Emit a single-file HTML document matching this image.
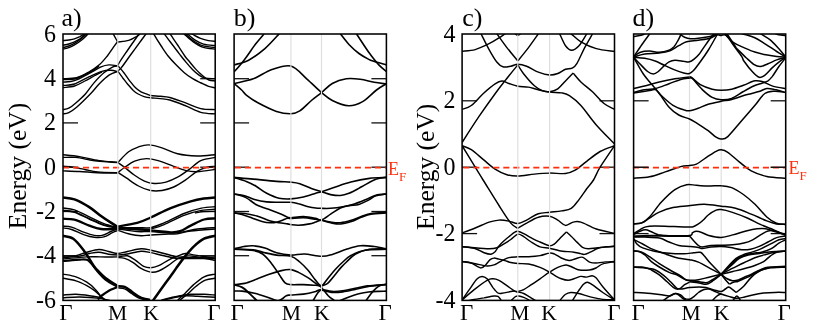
<!DOCTYPE html>
<html><head><meta charset="utf-8"><title>Band structures</title>
<style>html,body{margin:0;padding:0;background:#fff}svg{display:block}</style>
</head><body>
<svg width="817" height="328" viewBox="0 0 817 328">
<rect width="817" height="328" fill="#fff"/>
<clipPath id="cp0"><rect x="63.0" y="34.0" width="152.2" height="266.4"/></clipPath>
<g stroke="#111" stroke-width="1.30">
<line x1="63.0" y1="78.7" x2="78.0" y2="78.7"/>
<line x1="200.2" y1="78.7" x2="215.2" y2="78.7"/>
<line x1="63.0" y1="122.9" x2="78.0" y2="122.9"/>
<line x1="200.2" y1="122.9" x2="215.2" y2="122.9"/>
<line x1="63.0" y1="167.2" x2="78.0" y2="167.2"/>
<line x1="200.2" y1="167.2" x2="215.2" y2="167.2"/>
<line x1="63.0" y1="211.5" x2="78.0" y2="211.5"/>
<line x1="200.2" y1="211.5" x2="215.2" y2="211.5"/>
<line x1="63.0" y1="255.7" x2="78.0" y2="255.7"/>
<line x1="200.2" y1="255.7" x2="215.2" y2="255.7"/>
</g>
<g clip-path="url(#cp0)" fill="none" stroke="#000" stroke-width="1.40" stroke-linejoin="round">
<path d="M63.0 40.6C64.0 40.5 66.9 40.3 68.8 40.0C70.7 39.7 72.7 39.4 74.5 38.8C76.4 38.2 78.4 37.3 79.9 36.6C81.3 35.9 82.4 35.2 83.4 34.5C84.4 33.8 85.5 32.8 85.9 32.5"/>
<path d="M63.0 45.2C64.0 45.0 66.9 44.6 68.8 44.0C70.7 43.4 72.7 42.7 74.5 41.8C76.4 40.9 78.4 39.8 79.9 38.8C81.3 37.8 82.5 36.7 83.4 35.9C84.3 35.1 84.7 34.9 85.4 34.2C86.1 33.6 87.1 32.4 87.4 32.0"/>
<path d="M63.0 47.6C64.0 47.3 66.9 46.7 68.8 46.0C70.7 45.3 72.5 44.6 74.5 43.4C76.5 42.2 78.9 40.5 80.9 39.0C82.8 37.5 85.0 35.4 86.3 34.2C87.5 33.0 88.0 32.4 88.4 32.0"/>
<path d="M63.0 49.1C64.0 48.9 66.9 48.3 68.8 47.6C70.7 46.9 72.5 46.1 74.5 44.9C76.6 43.7 79.2 42.1 81.4 40.3C83.6 38.5 86.4 35.6 87.8 34.2C89.2 32.8 89.5 32.4 89.9 32.0"/>
<path d="M215.2 41.3C214.1 41.2 210.8 41.1 208.4 40.6C205.9 40.1 203.1 39.3 200.5 38.3C197.9 37.3 194.7 35.4 192.8 34.4C190.9 33.4 189.6 32.4 188.9 32.0"/>
<path d="M215.2 45.7C213.3 45.5 206.9 45.2 203.5 44.2C200.1 43.2 197.3 41.4 194.7 39.8C192.1 38.2 189.5 35.7 188.0 34.4C186.4 33.1 185.9 32.4 185.5 32.0"/>
<path d="M215.2 47.6C213.1 47.3 206.2 46.9 202.5 45.7C198.8 44.5 195.6 42.2 192.8 40.3C190.1 38.4 187.5 35.8 186.0 34.4C184.4 33.0 183.9 32.4 183.5 32.0"/>
<path d="M215.2 49.1C213.1 48.8 206.4 48.5 202.5 47.1C198.6 45.7 194.8 42.9 191.8 40.8C188.8 38.7 186.2 35.9 184.6 34.4C182.9 32.9 182.4 32.4 182.0 32.0"/>
<path d="M63.0 78.7C65.3 78.5 72.3 78.8 76.5 77.7C80.8 76.6 84.9 74.2 88.8 72.0C92.6 69.8 96.5 67.2 99.6 64.5C102.7 61.8 105.0 58.8 107.5 55.7C109.9 52.6 112.7 48.3 114.4 45.9C116.1 43.5 117.2 42.2 117.8 41.5"/>
<path d="M63.0 79.6C65.1 79.4 71.5 79.9 75.8 78.7C80.2 77.5 85.4 74.5 89.3 72.4C93.2 70.3 97.5 67.1 99.1 66.0"/>
<path d="M117.8 42.0C119.6 41.7 125.4 41.3 128.7 40.3C132.0 39.3 135.7 37.0 137.6 35.9C139.5 34.8 139.8 33.9 140.2 33.5"/>
<path d="M112.0 31.0C112.2 31.5 112.7 32.9 113.4 34.2C114.1 35.5 115.3 37.7 116.0 39.0C116.7 40.3 117.5 41.7 117.8 42.2"/>
<path d="M63.0 82.1C64.9 81.8 70.2 82.1 74.5 80.6C78.9 79.1 84.9 75.6 89.3 73.3C93.7 71.0 97.8 68.3 101.0 66.9C104.3 65.5 106.2 65.1 109.0 64.9C111.8 64.7 116.3 65.7 117.8 65.9"/>
<path d="M63.0 85.5C64.9 85.2 70.2 85.5 74.5 84.0C78.9 82.5 84.7 78.8 89.3 76.7C93.9 74.6 98.4 72.4 102.0 71.3C105.6 70.2 108.2 70.2 110.9 70.3C113.5 70.4 116.6 71.5 117.8 71.8"/>
<path d="M63.0 87.6C64.9 87.3 70.9 87.1 74.5 86.0C78.2 84.9 81.5 82.8 84.9 81.0C88.3 79.2 92.1 77.0 94.9 75.5C97.8 74.0 100.9 72.4 102.0 71.8"/>
<path d="M63.0 109.6C64.0 109.4 66.7 109.3 68.8 108.2C71.0 107.1 73.1 105.4 75.8 103.0C78.6 100.6 82.3 97.4 85.4 94.0C88.4 90.6 91.1 86.1 94.2 82.6C97.3 79.1 100.8 75.4 103.9 72.8C107.1 70.2 110.6 68.1 112.9 66.9C115.2 65.8 117.0 66.1 117.8 65.9"/>
<path d="M63.0 113.9C64.0 113.7 66.5 113.8 68.8 112.6C71.1 111.4 73.3 110.1 76.9 107.0C80.4 103.9 86.6 97.8 90.3 94.0C94.0 90.2 96.0 87.1 99.1 84.0C102.2 80.9 105.9 77.3 109.0 75.2C112.1 73.1 116.3 72.0 117.8 71.3"/>
<path d="M117.8 65.5C118.1 64.9 118.0 64.7 119.7 62.0C121.4 59.3 125.4 53.5 128.1 49.5C130.8 45.5 134.4 40.5 136.2 38.0C137.9 35.5 138.0 35.2 138.7 34.2C139.4 33.2 140.0 32.4 140.2 32.0"/>
<path d="M117.8 70.8C118.4 70.3 118.9 70.8 121.2 67.9C123.5 65.0 128.2 58.1 131.6 53.5C135.0 48.9 139.2 43.2 141.5 40.0C143.9 36.8 144.8 35.5 145.8 34.2C146.7 32.9 147.0 32.4 147.3 32.0"/>
<path d="M117.8 65.9C118.1 66.2 118.7 66.6 119.8 67.9C121.0 69.2 123.0 71.7 124.7 73.8C126.3 75.9 127.7 78.3 129.5 80.6C131.3 82.9 133.3 85.6 135.3 87.5C137.2 89.4 139.1 90.8 141.0 91.9C142.9 93.0 145.3 93.6 146.9 94.2C148.5 94.8 148.5 95.2 150.7 95.5C152.9 95.8 157.0 96.0 160.2 96.3C163.4 96.6 165.7 96.4 169.8 97.5C174.0 98.6 179.8 100.9 185.0 102.7C190.1 104.5 195.8 107.4 200.8 108.6C205.9 109.8 212.8 109.4 215.2 109.6"/>
<path d="M117.8 71.0C117.9 71.1 117.5 70.7 118.3 71.8C119.1 72.9 121.1 75.7 122.6 77.7C124.2 79.7 125.7 81.9 127.5 84.0C129.3 86.1 131.6 88.7 133.3 90.4C135.1 92.1 136.4 93.0 138.2 94.0C140.0 95.0 142.1 96.0 144.1 96.6C146.2 97.2 148.0 97.5 150.7 97.8C153.4 98.1 157.0 98.2 160.2 98.6C163.4 99.0 165.7 98.8 169.8 100.0C174.0 101.2 179.8 103.5 185.0 105.5C190.1 107.5 195.8 110.9 200.8 112.3C205.9 113.7 212.8 113.6 215.2 113.9"/>
<path d="M152.8 31.0C153.0 31.6 152.6 31.9 154.0 34.4C155.4 36.9 158.8 42.4 161.2 46.0C163.6 49.6 165.7 52.9 168.1 56.0C170.6 59.1 173.1 61.8 175.8 64.6C178.5 67.4 181.5 70.3 184.3 72.7C187.1 75.1 189.9 77.0 192.7 78.7C195.5 80.4 198.6 81.7 201.2 83.0C203.9 84.3 206.2 85.5 208.6 86.3C210.9 87.1 214.1 87.5 215.2 87.8"/>
<path d="M163.2 31.0C163.4 31.6 163.1 32.1 164.7 34.4C166.2 36.7 169.9 41.4 172.6 45.0C175.3 48.6 178.7 53.0 181.0 56.0C183.3 59.0 184.6 60.6 186.6 62.9C188.5 65.2 190.7 67.7 192.7 69.7C194.7 71.7 197.0 73.6 198.7 74.9C200.4 76.2 201.3 76.8 202.9 77.4C204.5 78.0 206.0 78.3 208.1 78.5C210.1 78.7 214.0 78.6 215.2 78.6"/>
<path d="M169.1 31.0C169.4 31.6 169.1 32.1 170.5 34.4C171.9 36.7 175.2 41.4 177.6 45.0C179.9 48.6 182.8 53.2 184.8 56.0C186.8 58.8 188.0 59.9 189.7 62.0C191.5 64.2 193.6 66.8 195.5 68.9C197.4 71.0 199.7 73.0 201.2 74.4C202.7 75.8 203.3 76.5 204.6 77.4C205.9 78.3 207.1 79.4 208.9 80.0C210.6 80.6 214.1 80.8 215.2 81.0"/>
<path d="M63.0 154.7C65.7 155.0 73.4 155.6 79.5 156.6C85.5 157.6 92.7 159.7 99.1 160.6C105.5 161.5 114.7 161.9 117.8 162.2"/>
<path d="M63.0 157.4C65.1 157.4 71.4 157.0 75.8 157.4C80.3 157.8 85.9 159.3 89.9 160.0C93.9 160.7 95.3 160.9 99.9 161.3C104.6 161.7 114.8 162.4 117.8 162.6"/>
<path d="M63.0 166.3C64.7 166.5 69.5 166.6 73.2 167.2C77.0 167.8 81.4 168.9 85.5 169.7C89.6 170.5 92.3 171.4 97.7 171.9C103.1 172.4 114.5 172.6 117.8 172.7"/>
<path d="M63.0 170.9C65.7 171.0 73.6 171.2 79.4 171.5C85.1 171.8 91.3 172.4 97.7 172.7C104.1 173.0 114.5 173.0 117.8 173.1"/>
<path d="M117.8 162.5C119.6 160.7 125.2 154.4 128.6 151.8C132.0 149.2 135.2 148.1 138.5 146.9C141.8 145.8 144.5 144.8 148.4 144.9C152.3 145.1 157.1 146.3 162.0 147.8C166.9 149.3 171.7 152.3 177.6 153.7C183.4 155.1 190.7 155.8 197.0 156.0C203.2 156.2 212.2 154.9 215.2 154.7"/>
<path d="M117.8 172.6C118.9 171.8 121.7 169.4 124.5 167.5C127.3 165.6 130.9 162.7 134.6 161.2C138.2 159.7 142.5 158.7 146.5 158.6C150.4 158.5 153.6 159.3 158.1 160.6C162.7 161.9 169.2 164.8 173.7 166.4C178.2 168.0 181.4 169.5 185.3 170.4C189.2 171.3 192.0 171.9 197.0 171.7C202.0 171.5 212.2 169.8 215.2 169.4"/>
<path d="M117.8 162.5C118.9 163.3 121.9 165.3 124.7 167.4C127.5 169.5 131.3 173.0 134.6 175.3C137.8 177.6 141.2 179.7 144.4 181.1C147.7 182.5 150.7 183.3 154.3 183.5C157.9 183.7 162.1 183.2 166.0 182.1C169.8 181.0 173.7 179.3 177.6 177.2C181.4 175.1 185.4 172.2 189.2 169.4C193.1 166.6 196.5 162.6 200.8 160.6C205.2 158.6 212.8 157.9 215.2 157.4"/>
<path d="M117.8 172.3C119.3 173.3 123.2 175.9 126.7 178.2C130.1 180.5 134.5 183.9 138.5 186.0C142.4 188.1 146.5 189.8 150.4 190.5C154.3 191.2 158.1 191.1 162.0 190.5C165.9 189.9 169.8 188.7 173.7 187.0C177.6 185.3 181.4 182.7 185.3 180.1C189.2 177.5 193.4 173.4 197.0 171.3C200.5 169.2 203.6 168.2 206.7 167.4C209.7 166.6 213.8 166.6 215.2 166.4"/>
<path d="M63.0 197.5C64.9 197.8 70.2 197.8 74.5 199.4C78.9 201.0 84.9 204.4 89.3 207.2C93.7 210.0 97.4 213.4 101.0 216.0C104.6 218.6 108.1 220.9 110.9 222.7C113.7 224.5 116.6 226.3 117.8 227.0" stroke-width="2.60"/>
<path d="M63.0 208.0C64.9 208.3 70.2 208.4 74.5 209.9C78.9 211.4 84.4 214.5 89.3 216.8C94.2 219.1 99.2 221.8 103.9 223.6C108.7 225.4 115.5 226.8 117.8 227.5"/>
<path d="M63.0 210.6C64.9 210.8 70.2 210.7 74.5 212.1C78.9 213.5 84.4 216.7 89.3 218.9C94.2 221.1 99.2 223.6 103.9 225.1C108.7 226.6 115.5 227.5 117.8 228.0" stroke-width="1.90"/>
<path d="M63.0 218.7C64.9 218.9 70.2 218.5 74.5 219.7C78.9 220.8 84.9 224.0 89.3 225.6C93.7 227.2 96.3 228.4 101.0 229.0C105.8 229.6 115.0 229.0 117.8 229.0" stroke-width="2.30"/>
<path d="M63.0 226.1C64.4 226.3 68.1 226.0 71.6 227.1C75.2 228.2 80.6 231.0 84.4 232.4C88.1 233.8 91.3 234.9 94.2 235.4C97.2 235.9 99.3 236.1 102.0 235.4C104.8 234.8 108.2 232.6 110.9 231.5C113.5 230.4 116.6 229.4 117.8 229.0"/>
<path d="M63.0 228.0C64.4 228.2 68.1 228.3 71.6 229.5C75.2 230.7 80.6 233.6 84.4 234.9C88.1 236.2 91.0 237.0 94.2 237.3C97.5 237.6 101.0 237.6 103.9 236.9C106.9 236.2 109.6 234.0 111.9 232.9C114.2 231.8 116.8 230.9 117.8 230.5"/>
<path d="M117.8 226.5C121.0 225.9 131.7 224.4 137.2 222.9C142.7 221.4 145.1 220.0 150.7 217.5C156.3 215.0 164.0 210.8 170.7 208.1C177.4 205.4 185.2 202.9 190.7 201.3C196.2 199.7 199.7 199.1 203.8 198.5C207.9 197.9 213.3 197.7 215.2 197.5" stroke-width="2.40"/>
<path d="M117.8 227.6C121.0 227.6 131.7 227.6 137.2 227.6C142.7 227.6 146.2 228.4 150.7 227.6C155.2 226.8 158.5 225.2 164.1 222.9C169.6 220.6 177.8 216.0 184.0 213.5C190.2 211.0 196.2 209.2 201.4 208.1C206.6 207.0 212.9 206.9 215.2 206.7"/>
<path d="M117.8 228.0C121.0 228.1 131.7 228.4 137.2 228.6C142.7 228.8 146.2 229.6 150.7 228.9C155.2 228.2 158.5 226.8 164.1 224.6C169.6 222.3 177.8 217.8 184.0 215.4C190.2 213.0 196.2 211.4 201.4 210.4C206.6 209.4 212.9 209.4 215.2 209.2"/>
<path d="M215.2 211.4C213.3 211.4 207.2 211.3 203.8 211.6C200.4 211.9 196.4 212.8 194.9 213.0"/>
<path d="M117.8 228.3C123.3 228.6 141.9 229.6 150.7 230.3C159.5 231.0 165.8 232.2 170.7 232.3C175.6 232.5 176.7 232.3 180.0 231.2C183.4 230.1 186.7 227.5 190.7 225.6C194.7 223.7 200.0 220.7 204.1 219.5C208.2 218.3 213.4 218.6 215.2 218.4" stroke-width="2.30"/>
<path d="M117.8 229.0C121.0 229.4 131.7 231.2 137.2 231.6C142.7 232.0 145.1 231.4 150.7 231.6C156.3 231.8 165.2 233.0 170.7 233.0C176.3 233.0 179.5 232.3 184.0 231.6C188.4 230.9 192.2 229.7 197.4 229.0C202.6 228.3 212.2 227.8 215.2 227.6"/>
<path d="M117.8 230.3C119.9 231.0 126.4 233.4 130.3 234.3C134.2 235.2 137.8 235.6 141.2 235.7C144.6 235.8 146.9 235.2 150.7 235.0C154.5 234.8 159.6 234.5 164.1 234.3C168.5 234.1 172.9 234.2 177.4 233.7C181.8 233.1 184.4 231.8 190.7 231.0C197.0 230.2 211.1 229.3 215.2 229.0"/>
<path d="M63.0 235.8C64.7 236.3 69.8 236.2 73.3 238.7C76.9 241.2 80.7 246.4 84.1 250.9C87.5 255.4 91.4 262.4 93.6 265.7C95.9 269.0 95.6 268.4 97.6 270.5C99.7 272.6 102.4 275.6 105.8 278.2C109.1 280.8 115.8 284.7 117.8 286.0" stroke-width="2.50"/>
<path d="M215.2 235.8C213.4 236.3 207.7 236.9 204.1 238.7C200.5 240.5 196.8 243.7 193.4 246.8C190.1 250.0 186.9 254.0 184.0 257.6C181.1 261.2 178.3 265.3 176.1 268.4C173.9 271.5 172.7 273.2 170.7 276.0C168.7 278.8 167.0 280.9 164.1 284.9C161.2 288.9 155.5 297.0 153.4 300.0C151.2 303.0 151.6 302.5 151.3 303.0" stroke-width="2.50"/>
<path d="M63.0 256.2C65.2 256.1 72.1 256.3 76.0 255.6C80.0 254.9 83.0 253.2 86.8 252.2C90.6 251.2 95.3 249.6 98.9 249.5C102.5 249.4 105.3 250.8 108.5 251.5C111.6 252.2 114.6 253.5 117.8 253.5C121.0 253.5 123.5 252.3 127.4 251.5C131.3 250.7 137.1 249.0 141.0 248.8C144.9 248.6 146.9 249.4 150.7 250.2C154.5 251.0 159.6 252.4 164.1 253.5C168.5 254.6 172.9 256.2 177.4 256.9C181.8 257.6 184.4 257.6 190.7 257.6C197.0 257.6 211.1 257.0 215.2 256.9"/>
<path d="M63.0 257.6C65.8 257.3 75.6 256.7 80.1 256.0C84.5 255.3 86.4 254.1 89.5 253.5C92.6 252.9 95.8 252.1 98.9 252.2C102.1 252.3 105.3 253.7 108.5 254.2C111.6 254.7 114.6 255.0 117.8 255.0C121.0 255.0 123.5 254.6 127.4 254.0C131.3 253.4 137.1 251.4 141.0 251.2C144.9 251.0 146.9 251.8 150.7 252.6C154.5 253.4 159.6 254.8 164.1 255.8C168.5 256.8 172.9 257.9 177.4 258.4C181.8 258.8 184.4 258.5 190.7 258.5C197.0 258.5 211.1 258.6 215.2 258.6"/>
<path d="M63.0 259.0C67.0 258.6 80.7 257.2 86.9 256.9C93.1 256.5 95.2 256.9 100.3 256.9C105.5 256.9 113.3 257.1 117.8 256.9C122.3 256.7 124.4 255.2 127.4 255.8C130.3 256.4 132.8 258.6 135.6 260.3C138.3 262.1 141.2 265.1 143.7 266.3C146.3 267.5 148.2 267.8 150.7 267.7C153.2 267.6 155.8 266.9 158.7 265.7C161.6 264.5 164.9 261.9 168.0 260.3C171.1 258.7 174.5 257.3 177.4 256.2C180.2 255.1 182.7 253.7 185.4 253.5C188.1 253.3 188.4 254.1 193.4 254.9C198.4 255.7 211.6 257.7 215.2 258.3"/>
<path d="M117.8 257.6C118.9 257.7 122.2 257.5 124.7 258.3C127.2 259.1 130.1 260.6 132.8 262.3C135.6 264.0 138.0 266.8 141.0 268.4C144.0 270.0 147.7 271.7 150.7 272.1C153.7 272.5 155.8 272.1 158.7 271.0C161.6 269.9 164.9 267.7 168.0 265.7C171.1 263.7 174.5 260.5 177.4 258.9C180.2 257.3 182.7 256.6 185.4 256.2C188.1 255.8 188.4 255.5 193.4 256.2C198.4 256.9 211.6 259.6 215.2 260.3"/>
<path d="M63.0 261.0C65.8 260.8 76.1 259.8 80.1 259.6C84.0 259.4 85.0 259.2 86.8 259.8C88.6 260.4 89.1 261.1 90.9 263.0C92.7 264.9 95.2 268.7 97.6 271.5C100.1 274.3 102.4 277.2 105.8 279.8C109.1 282.4 115.8 285.8 117.8 287.0" stroke-width="2.20"/>
<path d="M63.0 274.1C65.2 274.6 72.1 275.5 76.0 276.8C80.0 278.1 83.6 280.2 86.8 282.2C89.9 284.2 92.7 286.6 94.9 288.9C97.2 291.1 98.8 293.8 100.3 295.7C101.9 297.6 103.4 298.8 104.4 300.0C105.3 301.2 105.7 302.5 106.0 303.0"/>
<path d="M63.0 278.2C65.2 278.6 72.1 279.6 76.0 280.8C80.0 282.0 83.6 283.9 86.8 285.6C89.9 287.3 92.4 289.0 94.9 290.9C97.4 292.8 100.0 295.5 101.6 297.0C103.3 298.5 104.1 299.0 105.0 300.0C105.8 301.0 106.6 302.5 107.0 303.0"/>
<path d="M97.9 299.5C98.5 298.9 99.9 297.1 101.6 295.7C103.4 294.3 105.8 292.4 108.5 290.9C111.2 289.4 116.2 287.6 117.8 286.9" stroke-width="2.30"/>
<path d="M63.0 295.0C65.1 294.9 71.4 294.2 75.8 294.3C80.3 294.4 85.4 295.1 89.5 295.7C93.6 296.3 97.6 296.9 100.3 297.7C103.1 298.5 105.0 300.0 106.0 300.5"/>
<path d="M63.0 297.7C65.8 297.6 73.7 296.9 79.9 297.0C86.0 297.1 94.9 297.8 99.9 298.4C105.0 299.0 108.3 300.1 110.0 300.5"/>
<path d="M117.8 286.2C118.9 286.3 122.4 286.0 124.7 286.9C127.0 287.8 129.3 290.0 131.5 291.6C133.8 293.2 136.0 295.1 138.3 296.3C140.5 297.5 143.0 298.4 145.0 299.0C147.1 299.6 149.8 299.8 150.7 300.0" stroke-width="2.60"/>
<path d="M117.8 287.8C118.9 288.0 122.4 287.9 124.7 288.9C127.0 289.8 129.3 292.0 131.5 293.5C133.8 295.0 135.8 296.7 138.3 297.8C140.7 298.9 144.9 299.6 146.3 300.0"/>
<path d="M161.4 300.0C163.0 299.6 167.6 298.4 170.7 297.7C173.8 297.0 176.7 296.3 180.0 295.7C183.4 295.1 186.7 294.5 190.7 294.3C194.7 294.1 200.0 294.2 204.1 294.3C208.2 294.4 213.4 294.9 215.2 295.0"/>
<path d="M164.1 300.0C166.3 299.5 173.8 297.7 177.4 297.0C180.9 296.3 182.0 295.8 185.4 295.7C188.7 295.6 192.4 296.0 197.4 296.3C202.3 296.6 212.2 297.1 215.2 297.3"/>
<path d="M176.1 303.0C176.4 302.5 176.5 301.7 178.0 300.0C179.6 298.3 182.8 295.5 185.4 293.0C187.9 290.5 190.3 287.6 193.4 284.9C196.5 282.2 200.5 278.6 204.1 276.8C207.7 275.0 213.4 274.6 215.2 274.1"/>
<path d="M178.0 303.0C178.4 302.5 178.4 301.6 180.0 300.0C181.7 298.4 185.4 295.9 188.1 293.6C190.7 291.3 193.2 288.4 196.1 286.2C199.0 284.0 202.2 281.5 205.4 280.2C208.6 278.9 213.6 278.5 215.2 278.2"/>
</g>
<line x1="63.0" y1="167.6" x2="215.2" y2="167.6" stroke="#ff3010" stroke-width="1.55" stroke-dasharray="6.1 3.9"/>
<g stroke="#dedede" stroke-width="1.15">
<line x1="117.8" y1="34.0" x2="117.8" y2="300.4"/>
<line x1="150.7" y1="34.0" x2="150.7" y2="300.4"/>
</g>
<rect x="63.0" y="34.0" width="152.2" height="266.4" fill="none" stroke="#000" stroke-width="1.55"/>
<clipPath id="cp1"><rect x="234.1" y="34.0" width="152.3" height="266.4"/></clipPath>
<g stroke="#111" stroke-width="1.30">
<line x1="234.1" y1="78.7" x2="249.1" y2="78.7"/>
<line x1="371.4" y1="78.7" x2="386.4" y2="78.7"/>
<line x1="234.1" y1="122.9" x2="249.1" y2="122.9"/>
<line x1="371.4" y1="122.9" x2="386.4" y2="122.9"/>
<line x1="234.1" y1="167.2" x2="249.1" y2="167.2"/>
<line x1="371.4" y1="167.2" x2="386.4" y2="167.2"/>
<line x1="234.1" y1="211.5" x2="249.1" y2="211.5"/>
<line x1="371.4" y1="211.5" x2="386.4" y2="211.5"/>
<line x1="234.1" y1="255.7" x2="249.1" y2="255.7"/>
<line x1="371.4" y1="255.7" x2="386.4" y2="255.7"/>
</g>
<g clip-path="url(#cp1)" fill="none" stroke="#000" stroke-width="1.60" stroke-linejoin="round">
<path d="M234.1 64.9C236.5 64.1 243.5 62.9 248.6 60.2C253.7 57.5 259.9 52.9 264.9 48.6C269.9 44.3 276.1 37.1 278.8 34.2C281.5 31.3 280.6 31.5 281.0 31.0"/>
<path d="M234.1 71.9C235.8 70.0 240.4 64.9 244.0 60.2C247.6 55.6 252.3 48.3 255.6 44.0C258.9 39.7 262.0 36.5 263.7 34.2C265.4 32.0 265.6 31.1 266.0 30.5"/>
<path d="M234.1 83.5C237.3 82.7 247.0 81.1 253.3 78.8C259.6 76.5 265.6 71.6 271.9 69.5C278.2 67.4 285.1 64.5 290.9 66.0C296.7 67.5 301.6 74.4 306.7 78.8C311.8 83.2 317.2 89.0 321.5 92.6C325.8 96.2 327.8 98.3 332.3 100.5C336.8 102.7 343.6 105.6 348.6 105.8C353.7 106.0 358.0 104.2 362.6 101.6C367.2 99.0 372.5 93.0 376.5 90.0C380.5 87.0 384.8 84.8 386.4 83.8"/>
<path d="M234.1 83.5C235.3 84.6 239.6 88.1 241.6 90.0C243.6 91.9 243.6 93.0 246.3 95.1C249.0 97.2 252.9 100.1 257.9 102.8C262.9 105.5 271.0 109.6 276.5 111.4C282.0 113.2 287.0 113.8 290.9 113.7C294.8 113.6 296.4 113.1 299.8 110.9C303.2 108.7 307.8 103.5 311.4 100.5C315.0 97.5 318.0 95.4 321.5 92.6C325.0 89.8 328.2 85.8 332.3 83.5C336.4 81.2 341.7 79.5 346.3 78.8C350.9 78.1 355.6 78.7 360.2 79.3C364.8 79.9 369.8 81.5 374.2 82.3C378.6 83.1 384.4 83.7 386.4 84.0"/>
<path d="M386.4 64.9C384.3 64.3 376.6 62.2 373.7 61.3C370.8 60.4 371.2 60.7 368.8 59.4C366.4 58.1 362.3 56.0 359.0 53.5C355.7 51.0 352.2 47.9 349.2 44.7C346.2 41.5 342.7 36.7 340.9 34.4C339.1 32.1 338.9 31.6 338.5 31.0"/>
<path d="M386.4 71.4C385.1 70.3 381.6 67.9 378.8 64.9C376.0 61.9 373.2 58.4 369.5 53.3C365.8 48.2 359.2 37.9 356.7 34.2C354.2 30.5 354.9 31.5 354.5 31.0"/>
<path d="M234.1 177.4C237.3 177.7 246.2 178.4 253.3 179.1C260.4 179.8 270.2 180.9 276.5 181.4C282.8 181.9 287.0 181.7 290.9 182.1C294.8 182.5 296.4 182.6 299.8 183.7C303.2 184.8 307.8 187.1 311.4 188.4C315.0 189.7 318.3 190.7 321.5 191.7C324.7 192.7 327.5 194.0 330.6 194.6C333.8 195.2 337.3 195.7 340.4 195.5C343.5 195.3 345.9 194.5 349.0 193.3C352.1 192.1 356.2 189.8 358.8 188.4C361.4 187.0 361.9 186.5 364.9 184.9C367.8 183.3 372.9 180.3 376.5 179.1C380.1 177.8 384.8 177.7 386.4 177.4"/>
<path d="M234.1 177.4C236.1 178.1 242.7 180.0 246.3 181.4C249.9 182.8 252.3 184.0 255.7 186.0C259.1 188.0 262.8 191.3 266.7 193.3C270.6 195.3 275.0 197.3 279.0 198.2C283.0 199.1 286.8 199.1 290.9 198.9C295.0 198.7 299.3 197.9 303.4 197.0C307.5 196.1 312.7 194.2 315.7 193.3C318.7 192.4 318.3 192.7 321.5 191.7C324.7 190.7 329.8 188.8 334.7 187.2C339.6 185.6 345.1 183.6 350.9 182.1C356.7 180.6 363.6 179.2 369.5 178.4C375.4 177.6 383.6 177.6 386.4 177.4"/>
<path d="M234.1 194.0C235.9 194.3 241.3 194.9 244.7 195.8C248.1 196.7 250.8 198.5 254.5 199.5C258.2 200.5 262.6 201.4 266.7 201.9C270.8 202.4 275.0 202.2 279.0 202.3C283.0 202.4 287.6 202.1 290.9 202.3C294.1 202.5 295.6 202.9 298.5 203.7C301.4 204.4 305.4 206.1 308.3 206.8C311.2 207.5 313.5 207.8 315.7 208.0C317.9 208.2 319.0 208.2 321.5 208.3C324.0 208.4 327.1 208.6 330.6 208.3C334.2 208.1 338.7 207.6 342.8 206.8C346.9 206.0 351.0 205.0 355.1 203.7C359.2 202.4 363.8 200.3 367.3 198.9C370.8 197.5 372.7 196.0 375.9 195.2C379.1 194.4 384.6 194.2 386.4 194.0"/>
<path d="M234.1 194.0C236.1 194.6 242.1 195.8 245.9 197.6C249.7 199.4 252.8 202.9 256.9 205.0C261.0 207.1 266.3 208.4 270.4 209.9C274.5 211.4 278.5 213.0 281.4 214.2C284.2 215.4 285.9 216.6 287.5 217.2C289.1 217.8 288.2 217.9 290.9 217.8C293.5 217.7 299.3 216.5 303.4 216.6C307.5 216.7 312.7 217.8 315.7 218.4C318.7 219.0 319.0 220.7 321.5 220.0C324.0 219.3 327.5 216.2 330.6 214.2C333.8 212.2 337.3 209.4 340.4 208.0C343.5 206.6 345.9 206.2 349.0 205.6C352.1 205.0 355.6 205.3 358.8 204.4C362.1 203.5 365.6 201.5 368.5 200.1C371.4 198.7 372.9 196.8 375.9 195.8C378.9 194.8 384.6 194.3 386.4 194.0"/>
<path d="M234.1 212.9C235.9 213.0 240.9 213.0 244.7 213.5C248.5 214.0 252.6 214.8 256.9 216.0C261.2 217.2 266.7 219.8 270.4 220.9C274.1 222.0 276.1 222.2 279.0 222.7C281.9 223.2 285.5 223.6 287.5 223.9C289.5 224.2 289.1 224.4 290.9 224.6C292.7 224.8 295.4 225.3 298.5 225.2C301.6 225.1 306.7 224.4 309.6 223.9C312.5 223.4 313.7 222.7 315.7 222.1C317.7 221.5 319.0 220.3 321.5 220.3C324.0 220.3 327.5 221.7 330.6 222.1C333.8 222.5 336.9 223.0 340.4 222.7C343.9 222.4 347.9 221.3 351.4 220.3C354.9 219.3 357.9 217.7 361.2 216.6C364.5 215.5 366.8 214.2 371.0 213.5C375.2 212.8 383.8 212.5 386.4 212.3"/>
<path d="M234.1 212.9C235.4 213.2 239.0 213.7 242.0 214.5C245.0 215.3 248.7 216.8 252.0 218.0C255.3 219.2 258.9 220.7 262.0 221.5C265.1 222.3 268.0 222.7 270.4 222.8C272.8 222.9 274.5 222.7 276.5 222.3C278.5 221.9 280.8 221.0 282.6 220.3C284.4 219.6 286.1 218.5 287.5 218.2C288.9 217.9 288.2 218.6 290.9 218.5C293.5 218.4 299.3 217.7 303.4 217.8C307.5 217.9 312.7 218.9 315.7 219.3C318.7 219.7 319.0 219.7 321.5 220.3C324.0 220.9 327.5 222.2 330.6 222.8C333.8 223.4 336.9 224.2 340.4 224.0C343.9 223.8 347.9 222.6 351.4 221.5C354.9 220.4 357.9 218.5 361.2 217.3C364.5 216.1 366.8 214.9 371.0 214.2C375.2 213.5 383.8 213.2 386.4 213.0"/>
<path d="M234.1 248.8C235.8 248.4 240.8 247.0 244.0 246.5C247.2 246.0 249.8 245.5 253.3 245.8C256.8 246.1 261.0 246.9 264.9 248.1C268.8 249.3 272.2 251.6 276.5 252.8C280.8 254.0 286.2 254.9 290.9 255.1C295.5 255.3 299.3 253.8 304.4 254.0C309.5 254.2 316.9 256.2 321.5 256.3C326.1 256.4 328.2 255.6 332.3 254.4C336.4 253.2 341.7 250.7 346.3 249.3C350.9 247.9 355.6 246.3 360.2 245.8C364.8 245.3 369.8 246.0 374.2 246.5C378.6 247.0 384.4 248.4 386.4 248.8"/>
<path d="M234.1 248.8C237.3 249.0 248.2 249.1 253.3 249.8C258.4 250.5 261.0 251.9 264.9 252.8C268.8 253.7 272.2 254.5 276.5 255.1C280.8 255.7 287.0 255.2 290.9 256.3C294.8 257.4 296.9 259.6 299.8 262.0C302.7 264.4 305.7 267.5 308.3 270.6C310.9 273.7 313.5 277.9 315.7 280.4C317.9 282.9 319.4 286.1 321.5 285.7C323.6 285.3 325.9 280.6 328.2 277.9C330.5 275.2 333.1 271.9 335.5 269.3C337.9 266.7 340.2 264.3 342.8 262.0C345.4 259.7 347.2 257.4 350.9 255.5C354.6 253.6 359.0 251.3 364.9 250.3C370.8 249.3 382.8 249.5 386.4 249.3"/>
<path d="M234.1 249.3C237.3 249.5 248.6 249.7 253.3 250.5C258.1 251.3 259.8 252.1 262.6 254.0C265.5 255.9 267.7 258.6 270.4 262.0C273.1 265.4 276.6 270.7 279.0 274.2C281.4 277.7 283.1 281.1 285.1 282.8C287.1 284.5 287.8 284.3 290.9 284.6C293.9 284.9 299.3 284.5 303.4 284.6C307.5 284.7 312.7 285.1 315.7 285.3C318.7 285.5 320.2 285.9 321.5 285.9C322.8 285.9 322.2 285.8 323.3 285.3C324.4 284.8 326.2 284.7 328.2 282.8C330.2 280.9 333.3 276.9 335.5 274.2C337.7 271.5 339.8 268.9 341.6 266.9C343.4 264.9 344.2 264.1 346.5 262.0C348.8 259.9 351.8 256.1 355.6 254.0C359.4 251.9 364.4 250.2 369.5 249.3C374.6 248.4 383.6 248.9 386.4 248.8"/>
<path d="M234.1 284.6C235.9 284.4 240.9 284.3 244.7 283.4C248.5 282.5 252.8 280.6 256.9 279.1C261.0 277.6 265.1 275.6 269.2 274.2C273.3 272.8 277.8 271.4 281.4 270.6C285.0 269.8 288.0 269.3 290.9 269.6C293.8 269.9 295.6 271.0 298.5 272.4C301.4 273.8 305.4 276.1 308.3 277.9C311.2 279.7 313.5 281.8 315.7 283.4C317.9 285.0 319.4 285.4 321.5 287.5C323.6 289.6 326.1 293.5 328.2 295.7C330.3 297.9 333.0 299.4 334.3 300.5C335.6 301.6 335.7 302.2 336.0 302.5"/>
<path d="M234.1 284.8C235.4 285.2 239.6 285.9 242.2 287.4C244.8 288.9 247.2 291.4 249.6 293.6C252.0 295.8 255.3 299.2 256.9 300.8C258.5 302.4 258.6 302.6 259.0 303.0" stroke-width="1.90"/>
<path d="M234.1 291.1C235.4 291.1 238.8 290.8 242.2 291.1C245.6 291.5 250.4 292.2 254.5 293.2C258.6 294.2 263.4 295.8 266.7 296.9C269.9 298.0 272.1 299.1 274.0 299.8C275.9 300.5 276.7 300.9 278.0 300.8C279.3 300.7 280.6 299.9 282.0 299.0C283.4 298.1 284.8 296.4 286.3 295.7C287.8 295.0 288.0 295.3 290.9 295.0C293.8 294.7 299.3 294.7 303.4 294.1C307.5 293.5 312.7 292.2 315.7 291.4C318.7 290.6 318.8 289.5 321.5 289.5C324.2 289.5 328.2 291.2 331.8 291.4C335.4 291.6 338.9 291.3 342.8 290.8C346.7 290.3 351.0 289.1 355.1 288.3C359.2 287.5 362.1 286.6 367.3 285.9C372.5 285.2 383.2 284.6 386.4 284.3"/>
<path d="M321.5 290.0C323.2 290.4 328.2 292.1 331.8 292.4C335.4 292.7 338.9 292.4 342.8 291.9C346.7 291.4 351.0 290.3 355.1 289.4C359.2 288.5 362.1 287.5 367.3 286.7C372.5 285.9 383.2 285.1 386.4 284.8"/>
<path d="M311.5 303.0C311.8 302.6 312.1 302.2 313.2 300.5C314.3 298.8 316.7 294.4 318.1 292.6C319.5 290.8 320.9 290.0 321.5 289.5"/>
<path d="M338.0 302.0C338.4 301.8 338.6 301.4 340.4 300.5C342.2 299.6 345.9 298.0 349.0 296.9C352.1 295.8 355.6 294.6 358.8 293.8C362.1 293.0 365.2 292.4 368.5 292.0C371.8 291.6 375.3 291.5 378.3 291.4C381.3 291.2 385.0 291.2 386.4 291.1"/>
<path d="M364.5 303.0C364.8 302.6 365.0 302.0 366.1 300.5C367.2 299.0 369.4 295.8 371.0 293.8C372.6 291.8 374.3 289.7 375.9 288.3C377.5 286.9 379.1 286.0 380.8 285.3C382.6 284.6 385.5 284.5 386.4 284.3"/>
</g>
<line x1="234.9" y1="167.6" x2="386.4" y2="167.6" stroke="#ff3010" stroke-width="1.55" stroke-dasharray="6.1 3.9"/>
<g stroke="#dedede" stroke-width="1.15">
<line x1="290.9" y1="34.0" x2="290.9" y2="300.4"/>
<line x1="321.5" y1="34.0" x2="321.5" y2="300.4"/>
</g>
<rect x="234.1" y="34.0" width="152.3" height="266.4" fill="none" stroke="#000" stroke-width="1.55"/>
<clipPath id="cp2"><rect x="462.1" y="34.0" width="152.4" height="266.4"/></clipPath>
<g stroke="#111" stroke-width="1.30">
<line x1="462.1" y1="100.8" x2="477.1" y2="100.8"/>
<line x1="599.5" y1="100.8" x2="614.5" y2="100.8"/>
<line x1="462.1" y1="167.2" x2="477.1" y2="167.2"/>
<line x1="599.5" y1="167.2" x2="614.5" y2="167.2"/>
<line x1="462.1" y1="233.6" x2="477.1" y2="233.6"/>
<line x1="599.5" y1="233.6" x2="614.5" y2="233.6"/>
</g>
<g clip-path="url(#cp2)" fill="none" stroke="#000" stroke-width="1.45" stroke-linejoin="round">
<path d="M462.1 51.2C464.3 50.9 470.7 50.9 475.2 49.6C479.7 48.4 485.1 45.7 489.1 43.7C493.1 41.7 496.4 39.4 499.0 37.8C501.6 36.2 503.4 34.9 504.9 33.9C506.3 32.9 507.4 31.9 507.9 31.5"/>
<path d="M479.6 31.0C479.8 31.5 479.5 30.8 481.1 33.9C482.7 37.0 486.4 44.9 489.1 49.6C491.7 54.3 494.7 59.4 497.0 62.3C499.3 65.2 500.6 66.1 502.9 66.8C505.2 67.5 508.3 66.6 510.8 66.2C513.3 65.8 515.2 64.3 517.8 64.3C520.4 64.3 523.2 64.9 526.6 66.2C530.0 67.5 534.5 70.6 538.3 72.1C542.1 73.6 546.4 74.8 549.6 75.0C552.8 75.2 555.1 74.5 557.8 73.5C560.4 72.5 563.1 70.1 565.5 69.2C567.9 68.3 570.3 69.2 572.2 68.2C574.1 67.2 575.0 66.7 577.0 63.3C579.1 59.9 582.1 52.5 584.7 47.6C587.3 42.7 590.9 36.7 592.5 33.9C594.1 31.1 593.9 31.5 594.2 31.0"/>
<path d="M494.8 31.0C495.1 31.5 495.0 31.1 497.0 33.9C499.0 36.7 503.4 43.1 506.9 47.6C510.4 52.1 516.0 58.7 517.8 60.9"/>
<path d="M517.8 60.9C519.6 58.7 525.1 52.1 528.5 47.6C531.9 43.1 536.3 36.7 538.3 33.9C540.3 31.1 540.1 31.5 540.5 31.0"/>
<path d="M514.0 33.0C514.6 33.4 516.5 35.4 517.8 35.4C519.1 35.4 520.9 33.4 521.5 33.0"/>
<path d="M462.1 142.5C464.9 138.1 473.7 124.3 479.2 116.2C484.7 108.1 490.8 99.6 495.1 93.7C499.3 87.8 501.1 85.7 504.9 80.9C508.7 76.1 515.6 67.6 517.8 64.9"/>
<path d="M517.8 64.9C518.9 66.6 521.8 71.5 524.6 75.0C527.4 78.5 531.5 83.2 534.4 85.8C537.3 88.4 539.8 89.7 542.3 90.7C544.8 91.7 547.0 92.0 549.6 91.7C552.2 91.4 555.1 90.6 557.8 88.8C560.4 87.0 563.0 83.5 565.5 80.9C568.1 78.3 571.9 74.4 573.2 73.1"/>
<path d="M573.2 73.1C574.5 74.6 577.7 78.8 580.9 81.9C584.1 85.0 588.6 88.2 592.5 91.8C596.3 95.4 600.3 100.6 604.0 103.5C607.6 106.4 612.7 108.4 614.5 109.4"/>
<path d="M462.1 109.4C463.6 108.8 467.8 108.1 471.3 105.5C474.8 102.9 479.2 97.3 483.1 93.7C487.1 90.1 491.9 86.0 495.1 83.9C498.2 81.8 499.6 81.1 501.9 81.0C504.2 80.9 506.3 82.6 508.9 83.5C511.5 84.4 514.5 85.7 517.8 86.3C521.1 86.9 525.1 86.5 528.5 87.1C531.9 87.7 534.8 89.0 538.3 89.8C541.8 90.6 545.7 91.6 549.6 92.1C553.5 92.6 558.3 92.3 561.6 92.9C564.9 93.5 566.2 93.6 569.4 95.7C572.6 97.8 576.4 100.6 580.9 105.5C585.4 110.4 590.7 118.6 596.3 125.0C601.9 131.4 611.5 140.8 614.5 144.0"/>
<path d="M558.4 31.0C558.6 31.5 558.5 31.4 559.7 33.9C560.9 36.4 563.5 43.0 565.5 45.7C567.5 48.4 569.4 50.2 571.6 50.2C573.9 50.2 576.5 48.4 579.0 45.7C581.5 43.0 585.1 36.4 586.7 33.9C588.2 31.4 588.1 31.5 588.3 31.0"/>
<path d="M568.7 31.5C569.1 31.9 569.2 32.2 571.2 33.9C573.3 35.6 576.7 39.3 580.9 41.8C585.0 44.2 590.7 47.0 596.3 48.6C601.9 50.2 611.5 51.0 614.5 51.5"/>
<path d="M462.1 145.7C463.6 146.3 467.8 147.3 471.3 149.6C474.8 151.9 479.2 156.1 483.1 159.4C487.1 162.7 491.1 166.6 495.1 169.2C499.0 171.8 503.1 173.6 506.9 174.7C510.7 175.8 513.2 176.1 517.8 176.0C522.4 175.9 529.1 174.6 534.4 174.1C539.7 173.6 544.4 173.2 549.6 173.1C554.8 173.0 561.3 174.0 565.5 173.5C569.8 173.0 571.6 172.1 575.2 170.1C578.7 168.1 582.5 164.4 586.7 161.3C590.8 158.2 595.5 154.1 600.1 151.5C604.8 148.9 612.1 146.7 614.5 145.7"/>
<path d="M462.1 145.7C464.3 149.3 471.7 161.5 475.2 167.2C478.7 172.9 479.2 173.6 483.1 180.0C487.1 186.4 494.4 198.3 499.0 205.5C503.6 212.7 507.7 219.3 510.8 223.1C514.0 226.9 516.6 227.4 517.8 228.3"/>
<path d="M517.8 228.3C519.3 227.4 523.2 224.9 526.6 223.1C530.0 221.2 534.5 218.3 538.3 217.2C542.1 216.0 546.4 215.7 549.6 216.2C552.8 216.7 555.1 218.6 557.8 220.1C560.4 221.6 563.0 225.1 565.5 225.4C568.1 225.7 570.6 222.7 573.2 222.1C575.8 221.5 577.0 220.9 580.9 222.1C584.7 223.2 590.7 227.1 596.3 229.0C601.9 230.9 611.5 232.6 614.5 233.3"/>
<path d="M462.1 232.9C464.3 232.1 470.7 229.8 475.2 228.0C479.7 226.2 485.1 223.4 489.1 222.1C493.1 220.8 495.7 220.3 499.0 220.1C502.3 219.9 505.8 220.5 508.9 221.1C512.0 221.7 514.9 223.7 517.8 223.5C520.7 223.3 523.2 221.7 526.6 220.1C530.0 218.5 534.5 215.0 538.3 213.7C542.1 212.4 545.7 212.8 549.6 212.3C553.5 211.8 558.0 211.6 561.6 210.9C565.2 210.2 568.3 210.3 571.2 208.4C574.1 206.5 576.4 202.9 579.0 199.6C581.6 196.3 584.3 192.1 586.7 188.8C589.1 185.5 591.2 183.6 593.5 180.0C595.7 176.4 596.6 172.9 600.1 167.2C603.7 161.5 612.1 149.3 614.5 145.7"/>
<path d="M462.1 246.7C464.1 247.0 470.6 247.3 474.2 248.3C477.9 249.3 481.3 251.7 484.1 252.7C486.9 253.7 489.2 254.3 491.0 254.2C492.8 254.0 493.7 253.2 495.1 251.8C496.4 250.4 497.4 247.9 499.0 245.9C500.6 243.9 503.2 241.5 504.9 240.0C506.5 238.5 507.3 238.0 508.9 236.7C510.6 235.4 513.3 233.1 514.8 232.2C516.2 231.3 516.3 231.1 517.8 231.3C519.3 231.6 521.1 232.4 523.7 233.7C526.3 235.0 530.8 237.7 533.5 239.1C536.2 240.5 537.3 240.9 540.0 242.0C542.7 243.1 547.1 245.5 549.5 245.8C551.9 246.1 553.0 245.0 554.6 243.8C556.3 242.7 558.2 240.2 559.4 238.9C560.7 237.6 561.1 237.2 562.3 236.0C563.4 234.8 565.7 232.6 566.4 231.9"/>
<path d="M566.4 231.9C567.2 232.6 569.2 234.3 570.9 236.0C572.7 237.7 574.8 240.0 576.7 241.9C578.7 243.8 580.6 246.2 582.5 247.3C584.5 248.4 585.8 248.6 588.3 248.7C590.9 248.8 593.6 248.2 598.0 247.8C602.3 247.4 611.7 246.6 614.5 246.3"/>
<path d="M462.1 246.7C464.1 246.9 469.7 247.5 474.2 247.8C478.7 248.2 485.3 248.8 489.1 248.8C492.9 248.8 494.5 248.6 497.0 247.8C499.5 247.0 501.6 245.3 504.0 243.9C506.3 242.5 508.5 241.1 510.8 239.5C513.1 237.9 515.7 234.7 517.8 234.2C519.9 233.7 521.6 235.5 523.7 236.7C525.8 237.9 527.8 239.8 530.5 241.5C533.2 243.2 536.8 245.8 540.0 246.9C543.2 248.0 546.3 247.6 549.5 248.2C552.7 248.8 555.4 250.0 559.4 250.7C563.5 251.4 570.4 251.7 573.9 252.2C577.4 252.7 578.8 253.2 580.6 253.6C582.3 254.0 582.8 254.6 584.4 254.4C586.0 254.2 587.9 253.2 590.2 252.2C592.5 251.2 595.4 249.1 598.0 248.2C600.6 247.3 602.9 247.1 605.6 246.8C608.4 246.5 613.0 246.4 614.5 246.3"/>
<path d="M462.1 261.5C463.6 261.8 468.8 262.2 471.3 263.0C473.8 263.8 475.5 265.6 477.2 266.4C478.8 267.2 479.8 268.0 481.1 267.9C482.4 267.8 483.6 266.9 485.1 265.5C486.6 264.1 488.6 260.8 490.1 259.6C491.6 258.4 492.6 258.2 494.0 258.1C495.5 258.0 497.2 258.7 499.0 259.1C500.8 259.5 502.9 260.0 504.9 260.6C506.8 261.2 508.7 262.0 510.8 262.5C513.0 263.0 514.8 263.2 517.8 263.5C520.8 263.8 524.9 263.4 528.6 264.0C532.3 264.6 536.5 266.0 540.0 267.4C543.5 268.8 547.1 270.9 549.5 272.2C551.9 273.5 552.6 274.3 554.6 275.4C556.6 276.5 559.1 278.0 561.3 278.8C563.5 279.6 566.0 280.3 568.1 280.3C570.2 280.3 571.8 279.5 573.9 278.8C576.0 278.1 578.5 276.7 580.6 276.4C582.7 276.1 584.4 277.2 586.4 277.1C588.3 277.0 590.6 275.6 592.2 275.7C593.8 275.8 594.2 276.0 596.0 277.8C597.8 279.6 599.7 283.0 602.8 286.7C605.9 290.4 612.5 297.7 614.5 299.9"/>
<path d="M462.1 261.5C464.1 261.8 470.1 262.8 474.2 263.5C478.4 264.2 483.6 265.8 487.1 266.0C490.5 266.2 492.6 265.4 495.1 264.5C497.5 263.6 499.6 261.8 501.9 260.6C504.2 259.5 506.3 258.2 508.9 257.6C511.5 257.0 514.5 257.0 517.8 256.8C521.1 256.6 524.9 256.9 528.6 256.7C532.3 256.5 536.5 256.2 540.0 255.6C543.5 255.0 547.1 253.3 549.5 253.1C551.9 252.8 552.6 253.3 554.6 254.1C556.6 254.9 558.9 256.9 561.3 258.0C563.7 259.1 566.8 260.3 569.1 260.5C571.3 260.7 572.8 259.6 574.9 259.0C577.0 258.4 579.8 257.1 581.6 257.1C583.3 257.1 584.0 258.1 585.4 259.0C586.8 259.9 588.1 261.8 590.2 262.4C592.3 263.0 595.4 263.0 598.0 262.9C600.6 262.8 602.9 262.1 605.6 261.9C608.4 261.7 613.0 261.6 614.5 261.5"/>
<path d="M462.1 299.9C463.3 298.2 466.8 293.1 469.3 289.6C471.8 286.1 475.0 281.0 477.2 278.8C479.3 276.6 480.5 276.4 482.1 276.4C483.8 276.4 485.2 276.9 487.1 278.8C488.9 280.7 491.2 285.2 493.0 287.6C494.9 290.0 496.5 292.1 498.0 293.0C499.5 293.9 499.8 293.6 501.9 293.3C504.1 293.1 508.7 291.9 510.8 291.5C513.0 291.1 513.6 291.0 514.8 291.1C515.9 291.2 516.3 291.6 517.8 292.0C519.3 292.4 521.9 292.8 523.7 293.5C525.5 294.2 526.8 295.3 528.6 296.4C530.4 297.5 533.0 299.0 534.4 299.9C535.8 300.8 536.6 301.6 537.0 302.0"/>
<path d="M462.1 299.9C464.1 298.2 470.1 292.9 474.2 289.6C478.4 286.3 483.9 282.1 487.1 280.3C490.2 278.5 491.0 278.8 493.0 278.8C495.0 278.8 496.7 279.2 499.0 280.3C501.3 281.4 504.3 283.9 506.9 285.7C509.5 287.5 512.9 290.1 514.8 291.1C516.6 292.1 516.3 291.8 517.8 291.5C519.3 291.2 521.6 290.7 523.7 289.6C525.8 288.6 527.8 287.0 530.5 285.2C533.2 283.4 536.8 281.0 540.0 278.8C543.2 276.6 546.5 274.1 549.5 272.2C552.5 270.3 555.0 268.6 557.8 267.4C560.5 266.2 563.6 264.9 566.1 264.9C568.6 264.9 570.7 266.6 572.9 267.5C575.1 268.4 576.8 269.6 579.5 270.0C582.2 270.4 586.6 270.3 589.3 270.0C592.1 269.7 593.8 269.0 596.0 268.0C598.3 267.0 599.7 264.9 602.8 263.9C605.9 262.8 612.5 262.1 614.5 261.7"/>
<path d="M467.5 301.0C468.1 300.8 468.5 300.4 471.3 299.9C474.1 299.4 480.3 298.5 484.1 297.9C487.9 297.2 491.7 296.2 494.0 296.0C496.4 295.8 496.8 295.8 498.0 296.4C499.1 297.0 500.3 299.0 500.9 299.9C501.6 300.8 501.7 301.6 501.8 302.0"/>
<path d="M509.9 302.0C510.2 301.6 510.9 300.8 511.8 299.9C512.8 299.0 514.6 297.0 515.8 296.4C516.9 295.8 517.5 295.8 518.8 296.0C520.1 296.2 522.1 296.8 523.7 297.4C525.3 298.0 527.4 299.1 528.6 299.9C529.8 300.7 530.6 301.6 531.0 302.0"/>
<path d="M571.6 302.0C571.8 301.6 571.7 301.8 572.9 299.9C574.1 298.0 576.9 293.2 578.7 290.6C580.5 288.0 582.1 285.6 583.5 284.2C585.0 282.8 585.9 282.1 587.4 282.2C588.8 282.3 589.6 283.0 592.2 284.7C594.8 286.4 599.1 290.0 602.8 292.5C606.5 295.0 612.5 298.7 614.5 299.9"/>
<path d="M558.8 302.0C559.1 301.6 559.4 301.1 560.4 299.9C561.5 298.6 563.5 295.7 565.2 294.5C567.0 293.3 568.7 292.7 570.9 292.5C573.2 292.3 575.5 292.8 578.7 293.5C581.9 294.2 586.2 295.9 590.2 296.9C594.2 297.9 598.8 298.9 602.8 299.4C606.8 299.9 612.5 299.8 614.5 299.9"/>
</g>
<line x1="463.3" y1="167.6" x2="614.5" y2="167.6" stroke="#ff3010" stroke-width="1.55" stroke-dasharray="6.1 3.9"/>
<g stroke="#dedede" stroke-width="1.15">
<line x1="517.8" y1="34.0" x2="517.8" y2="300.4"/>
<line x1="549.6" y1="34.0" x2="549.6" y2="300.4"/>
</g>
<rect x="462.1" y="34.0" width="152.4" height="266.4" fill="none" stroke="#000" stroke-width="1.55"/>
<clipPath id="cp3"><rect x="633.6" y="34.0" width="152.1" height="266.4"/></clipPath>
<g stroke="#111" stroke-width="1.30">
<line x1="633.6" y1="100.8" x2="648.6" y2="100.8"/>
<line x1="770.7" y1="100.8" x2="785.7" y2="100.8"/>
<line x1="633.6" y1="167.2" x2="648.6" y2="167.2"/>
<line x1="770.7" y1="167.2" x2="785.7" y2="167.2"/>
<line x1="633.6" y1="233.6" x2="648.6" y2="233.6"/>
<line x1="770.7" y1="233.6" x2="785.7" y2="233.6"/>
</g>
<g stroke="#dedede" stroke-width="1.15">
<line x1="689.5" y1="34.0" x2="689.5" y2="300.4"/>
<line x1="721.2" y1="34.0" x2="721.2" y2="300.4"/>
</g>
<g clip-path="url(#cp3)" fill="none" stroke="#000" stroke-width="1.50" stroke-linejoin="round">
<path d="M633.6 36.6C634.6 36.4 638.1 36.0 639.8 35.6C641.5 35.2 642.9 34.7 644.0 34.2C645.0 33.7 645.6 33.0 646.0 32.7"/>
<path d="M785.7 35.8C784.2 35.5 778.6 34.7 776.7 34.2C774.9 33.7 775.0 33.2 774.7 33.0"/>
<path d="M633.6 57.0C635.0 55.0 639.1 48.5 641.8 44.7C644.4 40.9 647.9 36.3 649.5 34.1C651.2 31.9 651.1 31.9 651.4 31.5"/>
<path d="M633.6 57.0C634.6 56.2 637.1 53.5 639.8 52.5C642.4 51.5 646.3 51.1 649.5 51.1C652.8 51.1 656.1 52.5 659.3 52.3C662.6 52.1 666.6 51.0 669.1 50.1C671.5 49.2 672.5 48.2 674.0 46.7C675.4 45.2 676.7 42.8 677.8 40.8C679.0 38.8 680.1 36.4 680.7 34.9C681.4 33.4 681.6 32.5 681.8 32.0"/>
<path d="M679.3 32.0C679.6 32.4 679.9 33.6 680.7 34.5C681.6 35.4 683.0 36.6 684.6 37.3C686.2 38.0 688.2 38.6 690.5 38.8C692.8 39.0 695.2 38.7 698.4 38.3C701.7 37.9 706.9 37.0 709.9 36.4C712.9 35.8 714.9 35.0 716.4 34.4C717.9 33.8 718.5 32.8 718.9 32.5"/>
<path d="M633.6 57.0C635.4 56.5 640.4 54.7 644.7 54.0C648.9 53.3 655.2 53.5 659.3 53.0C663.4 52.5 665.8 52.3 669.1 51.1C672.3 49.9 675.9 47.2 678.8 45.7C681.8 44.2 683.3 42.7 686.6 41.8C689.9 40.9 694.6 40.9 698.4 40.3C702.3 39.7 706.9 39.3 709.9 38.3C712.9 37.3 715.0 35.4 716.4 34.4C717.7 33.4 717.6 32.8 717.9 32.5"/>
<path d="M633.6 57.3C635.4 57.5 641.2 57.7 644.7 58.3C648.1 58.9 651.2 59.6 654.4 60.8C657.7 61.9 660.9 63.7 664.2 65.2C667.4 66.7 670.7 68.3 674.0 69.6C677.2 70.9 681.1 72.3 683.7 73.0C686.3 73.7 687.9 73.9 689.5 73.5C691.1 73.1 691.7 72.5 693.5 70.6C695.3 68.6 697.8 65.3 700.3 61.8C702.9 58.3 706.0 53.8 708.7 49.5C711.3 45.2 714.8 38.9 716.4 36.0C717.9 33.1 717.6 32.7 717.9 32.0"/>
<path d="M633.6 57.3C634.6 58.4 637.5 61.3 639.8 63.7C642.1 66.1 645.3 69.8 647.6 71.5C649.8 73.2 651.6 74.0 653.4 74.0C655.2 74.0 656.5 72.9 658.3 71.5C660.1 70.1 662.4 67.3 664.2 65.7C666.0 64.1 667.3 62.7 669.1 61.8C670.9 60.9 672.5 60.4 675.0 60.3C677.4 60.2 681.3 61.0 683.7 61.3C686.1 61.5 687.7 62.2 689.5 61.8C691.3 61.4 692.8 60.1 694.4 58.8C696.1 57.5 698.0 55.4 699.3 53.9C700.7 52.4 700.6 52.1 702.3 49.6C704.1 47.1 708.0 41.4 709.9 38.8C711.7 36.2 712.5 35.3 713.4 34.2C714.2 33.1 714.6 32.4 714.9 32.0"/>
<path d="M633.6 57.3C634.3 58.5 636.1 61.8 637.8 64.7C639.5 67.6 641.7 71.7 643.7 74.5C645.6 77.3 646.9 78.6 649.5 81.8C652.2 85.0 656.1 89.3 659.3 93.5C662.6 97.7 665.8 103.6 669.1 107.2C672.3 110.8 675.4 113.0 678.8 115.0C682.2 117.0 686.6 117.7 689.5 119.0C692.4 120.3 693.3 121.0 696.4 122.9C699.5 124.9 704.9 128.3 708.2 130.7C711.4 133.1 713.9 135.8 716.1 137.2C718.3 138.6 719.3 139.1 721.2 139.0C723.1 138.9 724.4 139.6 727.8 136.6C731.1 133.6 736.9 126.2 741.4 121.0C746.0 115.8 751.1 109.9 755.0 105.3C758.9 100.7 761.5 95.8 764.8 93.5C768.0 91.2 771.1 91.4 774.6 91.2C778.0 91.0 783.8 92.3 785.7 92.5"/>
<path d="M713.9 36.0C714.5 35.8 716.7 34.9 717.9 34.8C719.1 34.7 720.1 35.6 721.2 35.6C722.3 35.6 723.3 34.6 724.4 34.8C725.5 34.9 727.3 36.2 727.9 36.5"/>
<path d="M723.4 32.0C723.7 32.4 723.6 32.7 725.2 34.4C726.8 36.1 729.7 39.9 732.8 42.1C736.0 44.3 740.2 46.0 743.9 47.6C747.6 49.2 751.2 50.8 754.8 52.0C758.5 53.2 762.1 54.1 765.8 54.8C769.4 55.5 773.4 56.0 776.7 56.4C780.1 56.8 784.2 56.9 785.7 57.0"/>
<path d="M740.8 33.0C741.3 33.2 741.6 33.4 743.9 34.2C746.2 35.0 751.2 36.0 754.8 37.7C758.5 39.4 762.1 42.0 765.8 44.3C769.4 46.6 773.4 49.4 776.7 51.5C780.1 53.6 784.2 56.1 785.7 57.0"/>
<path d="M758.7 32.5C759.2 32.8 759.5 33.0 761.4 34.2C763.3 35.4 767.3 37.5 770.2 39.9C773.1 42.3 776.3 45.9 778.9 48.7C781.5 51.6 784.6 55.6 785.7 57.0"/>
<path d="M724.9 32.0C725.1 32.4 724.9 32.4 726.3 34.4C727.6 36.4 730.3 40.6 732.8 44.3C735.4 48.0 739.9 53.6 741.7 56.4C743.5 59.2 742.1 58.4 743.9 61.0C745.7 63.6 750.1 69.3 752.7 72.0C755.2 74.7 757.2 76.8 759.2 77.3C761.2 77.8 762.5 76.9 764.7 75.3C766.9 73.7 770.0 69.8 772.4 67.6C774.7 65.4 776.7 63.8 778.9 62.1C781.2 60.4 784.6 58.3 785.7 57.5"/>
<path d="M725.9 32.0C726.1 32.4 725.7 31.8 727.4 34.4C729.1 37.0 734.3 45.0 736.1 47.6C738.0 50.2 736.7 48.3 738.3 50.0C740.0 51.7 743.5 55.3 746.1 57.7C748.7 60.1 751.4 62.8 753.7 64.3C756.1 65.8 757.9 66.6 760.3 66.5C762.7 66.4 765.2 64.9 768.0 63.8C770.7 62.7 773.8 61.0 776.7 59.9C779.7 58.8 784.2 57.7 785.7 57.2"/>
<path d="M633.6 88.6C635.6 88.1 641.4 86.8 645.7 85.7C649.9 84.6 654.4 83.2 659.3 82.1C664.2 80.9 669.8 79.7 674.9 78.8C679.9 77.9 687.1 77.2 689.5 76.9"/>
<path d="M689.5 76.9C689.8 77.0 689.7 76.1 691.5 77.4C693.3 78.7 696.9 82.7 700.3 84.7C703.8 86.7 708.7 88.3 712.2 89.2C715.6 90.1 718.0 90.2 721.2 90.2C724.4 90.2 728.0 90.0 731.7 89.2C735.4 88.4 739.5 86.7 743.4 85.3C747.3 83.9 751.8 81.4 755.0 80.8C758.3 80.2 760.0 80.9 762.9 81.8C765.8 82.7 768.9 85.0 772.7 86.1C776.5 87.2 783.5 88.2 785.7 88.6"/>
<path d="M633.6 92.5C635.6 92.0 642.0 90.2 645.7 89.6C649.3 88.9 651.5 89.6 655.4 88.6C659.3 87.6 664.9 85.2 669.1 83.7C673.3 82.2 677.3 80.3 680.7 79.4C684.1 78.5 688.0 78.4 689.5 78.2"/>
<path d="M689.5 78.2C690.0 78.3 690.4 76.9 692.5 78.8C694.6 80.7 699.1 86.5 702.3 89.6C705.6 92.7 709.0 95.7 712.2 97.4C715.3 99.1 718.0 99.6 721.2 99.8C724.4 100.0 728.0 99.8 731.7 98.4C735.4 97.0 739.7 93.6 743.4 91.5C747.1 89.4 750.6 87.4 753.7 86.0C756.9 84.6 760.1 83.9 762.5 83.0C764.9 82.1 766.3 81.9 768.0 80.8C769.6 79.7 770.5 78.8 772.4 76.4C774.2 74.0 776.7 69.6 778.9 66.5C781.2 63.4 784.6 59.2 785.7 57.7"/>
<path d="M633.6 93.1C636.3 92.7 645.9 91.2 649.5 90.6C653.2 90.0 653.5 88.8 655.4 89.6C657.4 90.4 658.3 92.9 661.2 95.5C664.1 98.1 669.1 102.9 673.0 105.3C676.9 107.7 681.9 109.2 684.6 110.1C687.4 111.0 687.2 111.0 689.5 110.7C691.8 110.4 695.2 109.3 698.3 108.2C701.4 107.1 704.3 105.5 708.2 104.3C712.0 103.1 717.3 102.1 721.2 101.3C725.1 100.5 727.3 100.5 731.7 99.4C736.0 98.3 742.7 95.8 747.3 94.5C751.8 93.2 755.8 92.5 759.0 91.5C762.3 90.5 764.2 88.9 766.8 88.6C769.4 88.3 771.4 88.9 774.6 89.6C777.7 90.2 783.8 92.0 785.7 92.5"/>
<path d="M633.6 178.2C636.3 178.0 644.3 177.9 649.5 176.8C654.8 175.8 660.0 173.6 665.2 171.9C670.4 170.2 676.7 167.7 680.7 166.6C684.8 165.5 686.9 165.8 689.5 165.4C692.1 165.0 693.3 165.6 696.4 164.1C699.5 162.6 704.9 158.3 708.2 156.2C711.4 154.1 713.9 152.4 716.1 151.3C718.3 150.2 719.3 149.6 721.2 149.8C723.1 150.0 724.7 150.2 727.8 152.3C730.8 154.4 735.6 159.0 739.5 162.1C743.4 165.2 746.6 168.5 751.2 170.9C755.7 173.3 761.0 175.2 766.8 176.4C772.5 177.6 782.5 177.9 785.7 178.2"/>
<path d="M633.6 223.9C635.0 223.7 639.1 224.1 641.8 222.9C644.4 221.8 646.3 220.4 649.5 217.0C652.8 213.6 657.0 206.9 661.2 202.3C665.4 197.7 670.6 192.5 674.9 189.6C679.1 186.7 683.0 185.4 686.6 184.7C690.2 184.0 692.8 185.1 696.4 185.3C700.0 185.5 704.0 186.0 708.2 186.1C712.3 186.2 717.3 185.4 721.2 185.7C725.1 185.9 728.0 186.1 731.7 187.6C735.4 189.1 739.5 191.7 743.4 194.5C747.3 197.3 751.1 200.6 755.0 204.3C758.9 208.1 763.2 213.8 766.8 217.0C770.4 220.2 773.4 222.1 776.5 223.3C779.7 224.5 784.2 224.2 785.7 224.4"/>
<path d="M633.6 223.9C635.0 223.7 639.1 223.9 641.8 222.9C644.4 221.9 646.6 219.8 649.5 218.0C652.5 216.2 655.4 213.8 659.3 212.1C663.2 210.4 668.1 208.6 673.0 207.6C677.8 206.6 683.4 206.4 688.6 205.8C693.8 205.2 698.8 204.2 704.2 204.3C709.7 204.4 716.0 205.5 721.2 206.2C726.4 206.8 730.6 206.9 735.6 208.2C740.6 209.5 746.0 212.0 751.2 214.1C756.4 216.2 762.6 219.3 766.8 220.9C771.0 222.5 773.4 223.3 776.5 223.9C779.7 224.5 784.2 224.3 785.7 224.4"/>
<path d="M633.6 233.7C634.6 233.0 637.8 230.9 639.8 229.8C641.8 228.7 643.2 227.6 645.7 226.9C648.1 226.2 650.5 226.0 654.4 225.9C658.3 225.8 664.2 226.2 669.1 226.4C674.0 226.6 679.8 226.8 683.7 226.9C687.6 227.0 690.1 227.4 692.5 226.9C695.0 226.4 696.6 225.1 698.4 223.9C700.2 222.8 701.7 221.5 703.3 220.0C705.0 218.5 706.0 216.7 708.2 215.0C710.3 213.3 713.9 211.0 716.1 210.1C718.3 209.2 718.6 209.3 721.2 209.6C723.8 209.9 727.3 210.7 731.7 212.1C736.0 213.5 742.5 215.9 747.3 218.0C752.1 220.1 756.3 222.6 760.3 224.4C764.3 226.2 768.2 227.5 771.3 228.8C774.4 230.1 776.5 231.2 778.9 232.1C781.3 233.0 784.6 233.9 785.7 234.3"/>
<path d="M633.6 234.7C634.6 234.1 637.8 232.1 639.8 231.3C641.8 230.5 643.7 229.7 645.7 229.8C647.6 229.9 649.3 231.0 651.4 231.8C653.5 232.6 655.4 234.0 658.3 234.7C661.3 235.3 663.9 235.6 669.1 235.7C674.3 235.8 685.6 236.0 689.5 235.5C693.4 235.0 691.4 233.4 692.5 232.7C693.7 232.0 694.8 231.3 696.4 231.3C698.1 231.3 700.3 232.0 702.3 232.7C704.4 233.4 705.5 234.6 708.7 235.4C711.8 236.2 717.2 237.5 721.2 237.4C725.2 237.3 728.7 236.0 732.8 234.9C737.0 233.8 742.1 232.0 746.1 231.0C750.1 230.0 753.7 229.2 757.0 228.8C760.3 228.4 762.5 228.2 765.8 228.8C769.1 229.4 773.4 231.1 776.7 232.1C780.1 233.1 784.2 234.4 785.7 234.9"/>
<path d="M633.6 236.2C636.3 236.1 643.6 235.8 649.5 235.7C655.5 235.6 662.4 235.9 669.1 235.9C675.7 235.9 686.1 235.9 689.5 235.9" stroke-width="2.00"/>
<path d="M689.5 235.9C690.2 236.7 692.0 239.0 693.5 240.6C695.0 242.2 697.0 244.4 698.4 245.5C699.9 246.6 700.3 246.9 702.3 246.9C704.4 246.9 707.7 245.9 710.9 245.6C714.0 245.3 717.5 245.4 721.2 245.3C724.9 245.2 729.1 245.2 732.8 244.8C736.6 244.4 740.6 243.9 743.9 243.1C747.2 242.3 749.7 241.3 752.7 239.8C755.6 238.3 758.9 235.8 761.4 234.3C764.0 232.8 765.8 231.6 768.0 231.0C770.2 230.4 771.6 230.3 774.6 231.0C777.5 231.7 783.8 234.7 785.7 235.4"/>
<path d="M633.6 237.1C635.4 237.1 640.4 236.9 644.7 237.1C648.9 237.3 655.2 237.3 659.3 238.1C663.4 238.9 665.8 240.8 669.1 242.0C672.3 243.2 675.4 244.8 678.8 245.5C682.2 246.2 686.2 246.1 689.5 246.4C692.8 246.7 696.3 247.0 698.4 247.4C700.6 247.8 700.3 248.7 702.3 248.6C704.4 248.5 707.7 247.4 710.9 247.0C714.0 246.6 717.9 246.3 721.2 246.4C724.5 246.5 727.2 246.9 730.7 247.5C734.1 248.1 738.4 249.4 741.7 249.7C745.0 250.0 747.5 249.8 750.5 249.2C753.4 248.6 756.3 247.6 759.2 246.4C762.1 245.2 765.1 243.5 768.0 242.0C770.9 240.5 773.8 238.6 776.7 237.6C779.7 236.6 784.2 236.3 785.7 236.0"/>
<path d="M633.6 238.1C634.1 239.1 635.4 242.4 636.9 244.0C638.4 245.6 639.7 246.7 642.7 247.9C645.6 249.1 650.0 250.4 654.4 251.3C658.8 252.2 664.2 252.9 669.1 253.3C674.0 253.7 679.6 253.9 683.7 253.8C687.8 253.7 690.7 253.1 693.5 252.8C696.3 252.6 698.5 251.8 700.3 252.3C702.1 252.8 702.5 253.9 704.2 255.8C706.0 257.7 708.0 260.7 710.9 263.8C713.7 266.9 719.5 272.6 721.2 274.3"/>
<path d="M633.6 239.6C635.1 240.3 640.0 242.6 642.7 244.0C645.3 245.4 646.8 246.6 649.5 247.9C652.3 249.2 656.1 250.6 659.3 251.8C662.6 253.0 665.8 254.2 669.1 255.3C672.3 256.4 675.4 257.5 678.8 258.2C682.2 258.9 686.2 259.0 689.5 259.7C692.8 260.4 694.9 260.6 698.4 262.1C702.0 263.6 707.1 266.8 710.9 268.8C714.7 270.8 719.5 273.4 721.2 274.3"/>
<path d="M721.2 274.3C722.4 272.9 726.0 268.7 728.5 266.0C731.0 263.3 733.6 260.2 736.1 258.3C738.7 256.4 741.1 255.6 743.9 254.5C746.6 253.4 749.7 252.9 752.7 251.9C755.6 250.9 758.5 249.9 761.4 248.6C764.3 247.3 767.3 245.7 770.2 244.2C773.1 242.7 776.3 240.8 778.9 239.8C781.5 238.9 784.6 238.7 785.7 238.5"/>
<path d="M721.2 274.3C722.6 272.9 726.8 268.7 729.6 266.0C732.3 263.3 735.0 260.2 737.8 258.3C740.6 256.4 743.5 255.7 746.3 254.8C749.1 253.9 752.4 253.4 754.7 253.0C757.1 252.6 757.6 253.2 760.3 252.5C763.1 251.8 768.2 250.2 771.3 248.6C774.4 247.0 776.5 244.6 778.9 243.1C781.3 241.6 784.6 240.4 785.7 239.8"/>
<path d="M721.2 274.3C722.8 272.9 727.6 268.7 730.7 266.0C733.7 263.3 736.5 260.1 739.4 258.3C742.4 256.5 745.0 255.8 748.3 255.0C751.6 254.2 755.4 254.0 759.2 253.4C763.1 252.8 766.9 252.1 771.3 251.7C775.7 251.3 783.3 251.3 785.7 251.2"/>
<path d="M721.2 274.3C723.1 273.3 729.1 270.1 732.8 268.2C736.6 266.3 740.2 264.4 743.9 262.7C747.6 261.0 751.2 259.2 754.8 257.8C758.5 256.4 762.1 255.5 765.8 254.5C769.4 253.5 773.4 252.2 776.7 251.7C780.1 251.1 784.2 251.3 785.7 251.2"/>
<path d="M721.2 274.3C723.1 273.8 729.1 272.4 732.8 271.5C736.6 270.6 740.2 269.8 743.9 268.8C747.6 267.8 751.6 266.7 754.8 265.5C758.1 264.3 761.0 263.2 763.6 261.6C766.2 260.0 768.0 257.7 770.2 256.1C772.4 254.6 774.2 253.1 776.7 252.3C779.3 251.5 784.2 251.4 785.7 251.2"/>
<path d="M633.6 250.9C634.6 251.1 637.9 251.2 639.8 251.8C641.6 252.5 642.7 253.2 644.7 254.8C646.6 256.4 649.0 259.6 651.4 261.6C653.9 263.6 656.4 265.2 659.3 267.0C662.2 268.8 666.2 271.1 669.1 272.4C672.0 273.7 674.3 273.8 676.8 274.9C679.4 276.0 682.5 278.4 684.6 279.3C686.7 280.2 687.2 280.2 689.5 280.3C691.8 280.4 695.0 280.4 698.4 279.8C701.8 279.2 706.1 277.8 709.9 276.9C713.7 276.0 719.3 274.7 721.2 274.3"/>
<path d="M633.6 250.9C635.0 251.1 639.1 251.3 641.8 252.3C644.4 253.3 646.6 254.8 649.5 256.7C652.5 258.6 656.1 261.5 659.3 263.6C662.6 265.7 665.5 267.4 669.1 269.5C672.6 271.6 677.9 274.3 680.7 276.0C683.5 277.7 684.4 279.0 685.8 279.8C687.3 280.6 687.3 280.4 689.5 280.7C691.7 281.0 696.4 281.4 699.1 281.7C701.9 282.0 704.0 282.9 706.0 282.7C707.9 282.5 708.3 282.1 710.9 280.7C713.4 279.3 719.5 275.4 721.2 274.4"/>
<path d="M689.5 281.7C691.1 281.9 696.4 282.5 699.1 282.9C701.9 283.3 703.8 284.5 706.0 284.3C708.1 284.1 709.3 283.1 711.9 281.5C714.4 279.9 719.6 275.6 721.2 274.4"/>
<path d="M633.6 267.0C635.0 267.0 639.1 266.7 641.8 267.0C644.4 267.3 647.9 268.5 649.5 269.0C651.2 269.5 649.8 269.0 651.4 270.0C653.1 271.0 656.7 272.9 659.3 274.9C661.9 276.9 664.8 279.8 667.1 281.8C669.4 283.8 671.3 285.9 673.0 287.1C674.6 288.3 675.5 288.9 676.8 289.1C678.1 289.3 679.4 288.8 680.7 288.1C682.0 287.4 683.2 285.7 684.6 284.7C686.1 283.7 688.7 282.6 689.5 282.2"/>
<path d="M633.6 267.3C635.5 267.4 641.3 267.6 645.0 268.0C648.6 268.4 652.2 268.7 655.4 270.0C658.6 271.3 661.6 273.9 664.2 275.9C666.7 277.9 668.7 280.0 670.8 282.0C672.8 284.0 675.0 286.8 676.6 288.0C678.3 289.2 678.4 289.2 680.5 289.1C682.7 289.0 686.4 287.9 689.5 287.6C692.6 287.3 696.4 287.1 699.1 287.1C701.9 287.1 703.5 287.1 706.0 287.6C708.4 288.1 711.3 289.4 713.9 290.0C716.4 290.6 719.3 291.7 721.2 291.5C723.1 291.3 724.2 289.7 725.4 289.0C726.6 288.3 727.4 287.1 728.6 287.1C729.7 287.2 731.1 288.4 732.3 289.3C733.6 290.2 735.6 292.0 736.2 292.5"/>
<path d="M633.6 292.5C635.4 292.6 640.4 292.7 644.7 293.0C648.9 293.3 655.2 294.0 659.3 294.5C663.4 295.0 666.8 296.0 669.1 296.0C671.3 296.0 671.8 294.9 673.0 294.5C674.1 294.1 674.6 293.4 675.8 293.5C677.1 293.6 679.3 294.2 680.7 295.0C682.2 295.8 683.2 297.7 684.6 298.4C686.1 299.1 687.9 299.5 689.5 299.2C691.1 298.9 692.6 297.6 694.2 296.4C695.8 295.2 697.5 293.1 699.1 292.0C700.8 290.9 702.4 290.0 704.0 289.5C705.7 289.0 707.3 288.9 709.0 289.1C710.6 289.4 711.8 290.2 713.9 291.0C715.9 291.8 718.8 293.1 721.2 294.0C723.6 294.9 726.1 295.7 728.6 296.4C731.1 297.1 733.6 298.2 736.1 298.3C738.7 298.4 741.1 297.8 743.9 297.2C746.6 296.6 749.4 295.7 752.7 295.0C755.9 294.3 760.0 293.5 763.6 293.1C767.3 292.7 770.9 292.5 774.6 292.4C778.2 292.3 783.8 292.4 785.7 292.4"/>
<path d="M661.9 302.0C662.3 301.6 663.0 300.8 664.2 299.9C665.4 299.0 667.3 297.5 669.1 296.4C670.9 295.3 673.3 293.7 675.0 293.5C676.6 293.3 677.5 294.2 678.8 295.0C680.1 295.8 681.6 297.6 682.7 298.4C683.9 299.2 684.9 299.3 685.6 299.9C686.3 300.5 686.6 301.6 686.8 302.0"/>
<path d="M721.2 274.4C722.1 275.1 724.7 277.4 726.6 278.5C728.5 279.6 730.6 280.4 732.5 280.7C734.5 280.9 736.3 280.6 738.3 280.0C740.4 279.4 742.7 277.9 744.8 277.0C746.9 276.1 748.7 275.6 751.0 274.5C753.2 273.4 755.4 271.8 758.2 270.6C761.1 269.4 763.4 268.0 768.0 267.3C772.6 266.6 782.7 266.5 785.7 266.3"/>
<path d="M721.2 274.4C721.9 275.3 724.2 278.4 725.6 280.0C727.0 281.6 728.8 283.5 729.5 284.2"/>
<path d="M729.5 284.2C730.1 283.9 731.9 282.8 733.3 282.3C734.8 281.8 736.4 281.9 738.3 281.2C740.2 280.5 742.7 279.2 744.8 278.3C746.9 277.4 748.7 276.7 751.0 275.6C753.2 274.5 755.4 272.8 758.2 271.5C761.1 270.2 763.4 268.7 768.0 267.9C772.6 267.1 782.7 267.1 785.7 266.9"/>
<path d="M736.2 292.5C737.5 291.4 741.2 288.7 743.7 286.2C746.2 283.7 748.5 280.0 751.0 277.6C753.4 275.2 755.4 273.5 758.2 271.9C761.1 270.3 763.4 269.0 768.0 268.2C772.6 267.4 782.7 267.4 785.7 267.2"/>
<path d="M710.9 302.5C711.2 302.1 711.7 301.2 712.9 300.0C714.0 298.8 716.4 296.4 717.8 295.4C719.2 294.3 720.6 294.0 721.2 293.7"/>
<path d="M732.3 301.5C732.5 301.2 732.7 300.9 733.4 300.0C734.2 299.1 735.7 295.9 736.8 295.9C738.0 295.9 739.5 299.1 740.2 300.0C741.0 300.9 741.1 301.2 741.3 301.5"/>
</g>
<line x1="632.9" y1="167.6" x2="785.7" y2="167.6" stroke="#ff3010" stroke-width="1.55" stroke-dasharray="6.1 3.9"/>
<g stroke="#111" stroke-width="1.10">
<line x1="633.6" y1="167.4" x2="648.6" y2="167.4"/>
<line x1="770.7" y1="167.4" x2="785.7" y2="167.4"/>
</g>
<rect x="633.6" y="34.0" width="152.1" height="266.4" fill="none" stroke="#000" stroke-width="1.55"/>
<g font-family="'Liberation Serif', 'Times New Roman', serif" fill="#000">
<text x="61.5" y="26.2" font-size="26">a)</text>
<text x="59.2" y="319.8" font-size="23">Γ</text>
<text x="117.5" y="319.8" font-size="21.6" text-anchor="middle">M</text>
<text x="151.1" y="319.8" font-size="21.6" text-anchor="middle">K</text>
<text x="207.2" y="319.8" font-size="23">Γ</text>
<text transform="translate(56.0 41.8) scale(1 1.085)" font-size="24" text-anchor="end">6</text>
<text transform="translate(56.0 86.1) scale(1 1.085)" font-size="24" text-anchor="end">4</text>
<text transform="translate(56.0 130.3) scale(1 1.085)" font-size="24" text-anchor="end">2</text>
<text transform="translate(56.0 174.6) scale(1 1.085)" font-size="24" text-anchor="end">0</text>
<text transform="translate(56.0 218.9) scale(1 1.085)" font-size="24" text-anchor="end">-2</text>
<text transform="translate(56.0 263.1) scale(1 1.085)" font-size="24" text-anchor="end">-4</text>
<text transform="translate(56.0 307.6) scale(1 1.085)" font-size="24" text-anchor="end">-6</text>
<text transform="translate(25.7 166.0) rotate(-90)" font-size="25.5" text-anchor="middle">Energy (eV)</text>
<text x="233.7" y="26.2" font-size="26">b)</text>
<text x="230.5" y="319.8" font-size="23">Γ</text>
<text x="291.3" y="319.8" font-size="21.6" text-anchor="middle">M</text>
<text x="321.9" y="319.8" font-size="21.6" text-anchor="middle">K</text>
<text x="378.5" y="319.8" font-size="23">Γ</text>
<text x="388.0" y="175.0" font-size="18" fill="#ff3010">E<tspan font-size="13" dy="6.3">F</tspan></text>
<text x="462.2" y="26.2" font-size="26">c)</text>
<text x="459.9" y="319.8" font-size="23">Γ</text>
<text x="519.8" y="319.8" font-size="21.6" text-anchor="middle">M</text>
<text x="549.1" y="319.8" font-size="21.6" text-anchor="middle">K</text>
<text x="607.2" y="319.8" font-size="23">Γ</text>
<text transform="translate(455.6 41.8) scale(1 1.085)" font-size="24" text-anchor="end">4</text>
<text transform="translate(455.6 108.2) scale(1 1.085)" font-size="24" text-anchor="end">2</text>
<text transform="translate(455.6 174.6) scale(1 1.085)" font-size="24" text-anchor="end">0</text>
<text transform="translate(455.6 241.0) scale(1 1.085)" font-size="24" text-anchor="end">-2</text>
<text transform="translate(455.6 307.6) scale(1 1.085)" font-size="24" text-anchor="end">-4</text>
<text transform="translate(433.8 166.8) rotate(-90)" font-size="25.5" text-anchor="middle">Energy (eV)</text>
<text x="632.6" y="26.2" font-size="26">d)</text>
<text x="631.5" y="319.8" font-size="23">Γ</text>
<text x="691.2" y="319.8" font-size="21.6" text-anchor="middle">M</text>
<text x="721.6" y="319.8" font-size="21.6" text-anchor="middle">K</text>
<text x="777.5" y="319.8" font-size="23">Γ</text>
<text x="788.6" y="174.0" font-size="18" fill="#ff3010">E<tspan font-size="13" dy="6.3">F</tspan></text>
</g>
</svg>
</body></html>
